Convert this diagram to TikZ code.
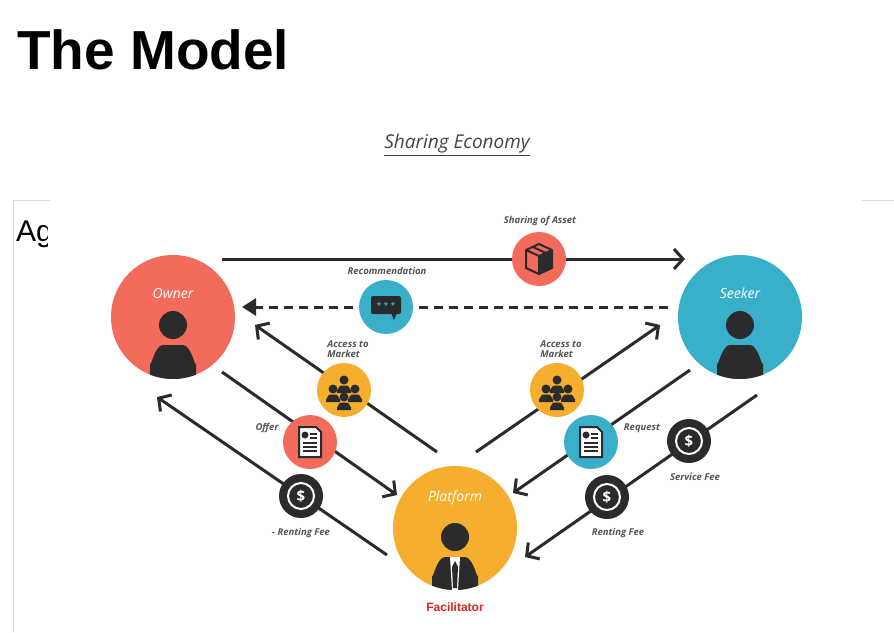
\documentclass[tikz,border=0pt]{standalone}
\usepackage{fontspec}
\setmainfont{Open Sans}
\newfontfamily\titlefont{Liberation Sans}
\usetikzlibrary{arrows.meta}
\definecolor{cOwner}{HTML}{F26B5B}
\definecolor{cSeek}{HTML}{3AAFC9}
\definecolor{cPlat}{HTML}{F5AE2E}
\definecolor{cDark}{HTML}{2B2B2D}
\definecolor{cLab}{HTML}{555555}
\definecolor{cRed}{HTML}{D9261C}
\begin{document}
\begin{tikzpicture}[x=1pt,y=-1pt,
  flow/.style={line width=3pt,draw=cDark,-{Straight Barb[length=9pt,width=20pt,line width=3pt]}},
  big/.style={circle,minimum size=124pt,inner sep=0pt},
  ico/.style={circle,minimum size=54pt,inner sep=0pt},
  dol/.style={circle,minimum size=44pt,inner sep=0pt,fill=cDark},
  lab/.style={font=\fontsize{9.5}{10.5}\selectfont\itshape\bfseries,text=cLab,align=left},
  ttl/.style={font=\fontsize{14}{15}\selectfont\itshape,text=white},
  person/.pic={\fill[cDark] (0,0) circle (14);
     \fill[cDark] (-23,60) -- (-23,38) to[out=-90,in=180] (-10,20) -- (10,20) to[out=0,in=-90] (23,38) -- (23,60) -- cycle;},
  mini/.pic={\fill[cDark] (0,0) circle (4.5);
     \fill[cDark] (-7,13) -- (-7,10) to[out=-90,in=180] (-3,5.5) -- (3,5.5) to[out=0,in=-90] (7,10) -- (7,13) -- cycle;},
  group/.pic={\pic at (0,-12) {mini}; \pic at (-11,-3) {mini}; \pic at (11,-3) {mini}; \pic at (0,5) {mini};},
  doc/.pic={\draw[cDark,line width=2pt,fill=white] (-11,-15) -- (6,-15) -- (11,-10) -- (11,15) -- (-11,15) -- cycle;
     \fill[cDark] (-5,-7) circle (3.5);
     \foreach \yy in {-8,-4} \draw[cDark,line width=1.5pt] (0,\yy) -- (7,\yy);
     \foreach \yy in {1,5,9} \draw[cDark,line width=1.5pt] (-7,\yy) -- (7,\yy);},
  dollar/.pic={\draw[white,line width=2pt] (0,0) circle (13);
     \node[text=white,font=\fontsize{15}{15}\selectfont\bfseries] at (0,0) {\$};},
  boxi/.pic={\draw[cDark,line width=2pt,line join=round] (-13,-7) -- (0,-13) -- (13,-7) -- (13,11) -- (0,17) -- (-13,11) -- cycle;
     \draw[cDark,line width=2pt] (-13,-7) -- (0,-1) -- (13,-7) (0,-1) -- (0,17);
     \fill[cDark] (0,-1) -- (13,-7) -- (13,11) -- (0,17) -- cycle;
     \draw[cDark,line width=2pt] (-6,-10) -- (7,-4);},
  chat/.pic={\fill[cDark,rounded corners=2pt] (-15,-10) rectangle (15,8);
     \fill[cDark] (5,7) -- (11,7) -- (8,14) -- cycle;
     \foreach \xx in {-7,0,7} \node[text=cSeek,font=\fontsize{8}{8}\selectfont\bfseries,inner sep=0pt] at (\xx,-1) {*};}
]
\useasboundingbox (0,0) rectangle (894,632);
\fill[white] (0,0) rectangle (894,632);
% frame
\draw[gray!30,line width=1pt] (13,632) -- (13,200) -- (50,200) (862,200) -- (894,200);
\begin{scope}
\clip (13,200) rectangle (47,260);
\node[anchor=base west,inner sep=0pt,font=\titlefont\fontsize{30}{30}\selectfont] (ag) at (16,241) {Ag};
\end{scope}
\node[anchor=base west,inner sep=0pt,font=\titlefont\fontsize{55}{55}\selectfont\bfseries] (title) at (17,69) {The Model};
\node[font=\fontsize{19}{20}\selectfont\itshape,text=cLab!80!black] (sub) at (457,145) {\underline{Sharing Economy}};

% big circles
\node[big,fill=cOwner] (owner) at (173,317) {};
\node[big,fill=cSeek] (seeker) at (740,317) {};
\node[big,fill=cPlat] (plat) at (455,528) {};
\begin{scope}\clip (173,317) circle (62); \pic at (173,325) {person}; \end{scope}
\begin{scope}\clip (740,317) circle (62); \pic at (740,325) {person}; \end{scope}
\begin{scope}\clip (455,528) circle (62); \pic at (455,537) {person};
 \fill[white] (450,557) -- (460,557) -- (458,590) -- (452,590) -- cycle;
 \fill[cDark] (455,561) -- (458,567) -- (457,588) -- (453,588) -- (452,567) -- cycle; \end{scope}
\node[ttl] at (173,293) {Owner};
\node[ttl] at (740,293) {Seeker};
\node[ttl] at (455,498) {Platform};
\node[font=\titlefont\fontsize{12}{12}\selectfont\bfseries,text=cRed] (fac) at (455,607) {Facilitator};

% anchor coordinates
\coordinate (a1) at (222,259); \coordinate (a2) at (685,259);
\coordinate (r1) at (668,307); \coordinate (r2) at (242,307);
\coordinate (m1) at (437,452); \coordinate (m2) at (255,325);
\coordinate (o1) at (222,372); \coordinate (o2) at (397,495);
\coordinate (f1) at (387,555); \coordinate (f2) at (157,397);
\coordinate (n1) at (476,452); \coordinate (n2) at (660,325);
\coordinate (q1) at (690,370); \coordinate (q2) at (513,493);
\coordinate (s1) at (757,395); \coordinate (s2) at (525,557);

\draw[flow] (a1) -- (a2);
\draw[line width=3pt,draw=cDark,dash pattern=on 9pt off 6pt,-{Triangle[length=14pt,width=17pt]}] (r1) -- (r2);
\draw[flow] (m1) -- (m2);
\draw[flow] (o1) -- (o2);
\draw[flow] (f1) -- (f2);
\draw[flow] (n1) -- (n2);
\draw[flow] (q1) -- (q2);
\draw[flow] (s1) -- (s2);

% icons
\node[ico,fill=cOwner] (iAsset) at (539,259) {}; \pic at (539,257) {boxi};
\node[ico,fill=cSeek] (iRec) at (386,307) {}; \pic at (386,306) {chat};
\node[ico,fill=cPlat] (iAccL) at (344,390) {}; \pic at (344,392) {group};
\node[ico,fill=cOwner] (iOffer) at (310,442) {}; \pic at (310,442) {doc};
\node[dol] (iRentL) at (301,496) {}; \pic at (301,496) {dollar};
\node[ico,fill=cPlat] (iAccR) at (557,390) {}; \pic at (557,392) {group};
\node[ico,fill=cSeek] (iReq) at (591,442) {}; \pic at (591,442) {doc};
\node[dol] (iServ) at (689,441) {}; \pic at (689,441) {dollar};
\node[dol] (iRentR) at (607,497) {}; \pic at (607,497) {dollar};

% labels
\node[lab] at (540,221) {Sharing of Asset};
\node[lab] at (387,271) {Recommendation};
\node[lab] at (348,349) {Access to\\Market};
\node[lab] at (561,349) {Access to\\Market};
\node[lab] at (267,428) {Offer};
\node[lab] at (301,533) {- Renting Fee};
\node[lab] at (642,428) {Request};
\node[lab] at (695,477) {Service Fee};
\node[lab] at (618,533) {Renting Fee};
\end{tikzpicture}
\end{document}
